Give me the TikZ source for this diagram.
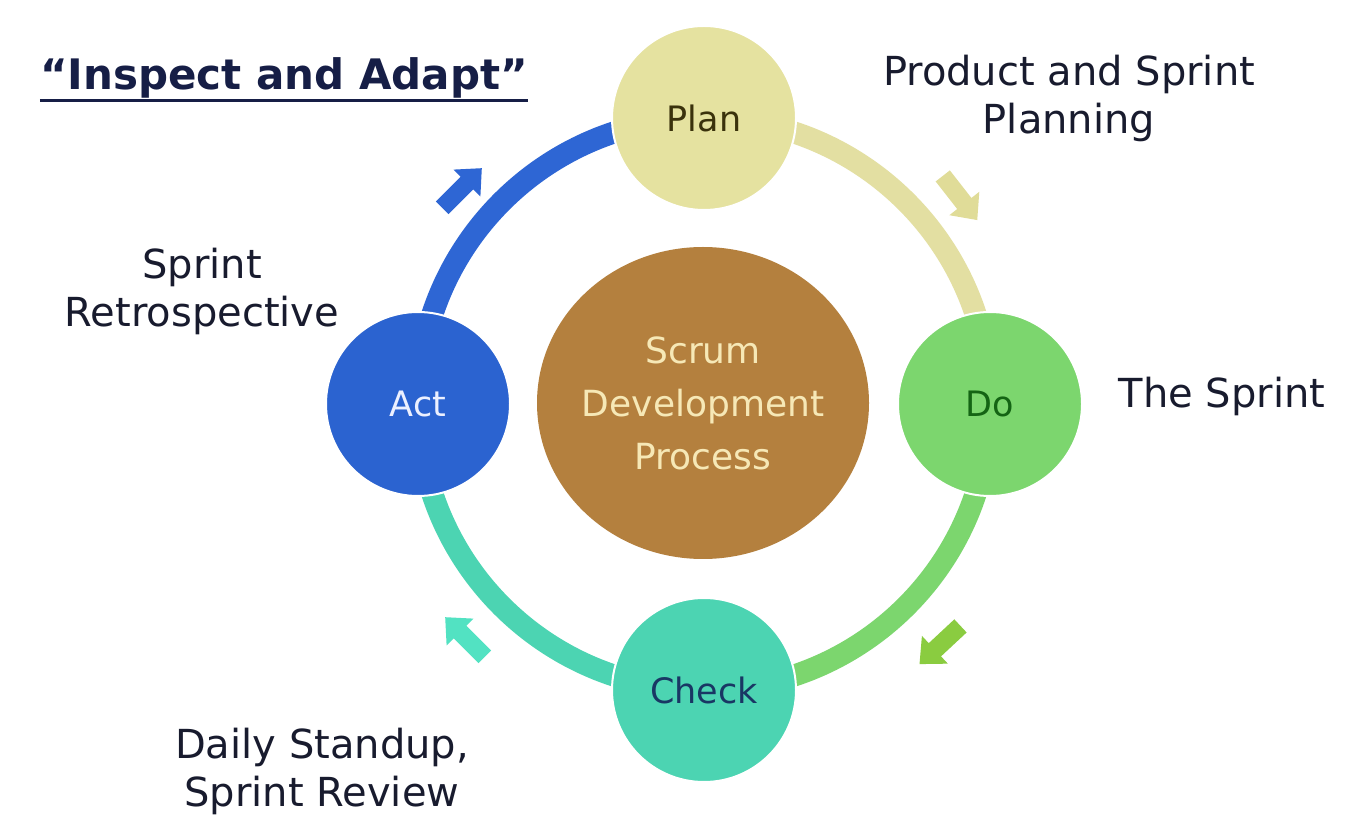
\documentclass[tikz,border=0pt]{standalone}
\usepackage{fontspec}
\setmainfont{DejaVu Sans}
\usetikzlibrary{shapes.geometric,backgrounds}
\definecolor{planC}{RGB}{229,226,160}
\definecolor{planArc}{RGB}{227,223,162}
\definecolor{planArrow}{RGB}{224,220,152}
\definecolor{planText}{RGB}{58,50,12}
\definecolor{doC}{RGB}{124,214,110}
\definecolor{doArrow}{RGB}{138,204,64}
\definecolor{doText}{RGB}{20,100,20}
\definecolor{checkC}{RGB}{76,212,178}
\definecolor{checkArrow}{RGB}{82,226,194}
\definecolor{checkText}{RGB}{25,55,100}
\definecolor{actC}{RGB}{43,99,208}
\definecolor{actArc}{RGB}{46,102,212}
\definecolor{actText}{RGB}{236,240,255}
\definecolor{coreC}{RGB}{180,128,62}
\definecolor{coreText}{RGB}{246,232,182}
\definecolor{labelC}{RGB}{24,27,46}
\definecolor{titleC}{RGB}{22,30,70}
\tikzset{
  phase/.style={circle, minimum size=184pt, inner sep=0pt, draw=white, line width=2pt,
                font=\fontsize{35}{40}\selectfont},
  ringline/.style={line width=22pt},
  outlabel/.style={align=center, inner sep=0pt, text=labelC,
                font=\fontsize{40}{48}\selectfont},
  blockarrow/.pic={\fill (-28,-9) -- (7,-9) -- (7,-19) -- (28,0) -- (7,19) -- (7,9) -- (-28,9) -- cycle;}
}
\begin{document}
\begin{tikzpicture}[x=1pt,y=1pt]
\useasboundingbox (0,0) rectangle (1365,833);

% phases
\coordinate (ring) at (704,429);
\node[phase, fill=planC, text=planText] (plan) at (704,715) {Plan};
\node[phase, fill=doC, text=doText] (do) at (990,429) {Do};
\node[phase, fill=checkC, text=checkText] (check) at (704,143) {Check};
\node[phase, fill=actC, text=actText] (act) at (418,429) {Act};

% ring arcs behind the circles
\begin{scope}[on background layer]
\fill[white] (0,0) rectangle (1365,833);
\draw[ringline, actArc] (act.center) arc[start angle=180, end angle=90, radius=286];
\draw[ringline, planArc] (plan.center) arc[start angle=90, end angle=0, radius=286];
\draw[ringline, doC] (do.center) arc[start angle=0, end angle=-90, radius=286];
\draw[ringline, checkC] (check.center) arc[start angle=-90, end angle=-180, radius=286];
\end{scope}

% core
\node[ellipse, fill=coreC, minimum width=332pt, minimum height=312pt, inner xsep=-20pt, inner ysep=-20pt,
      align=center, text=coreText, font=\fontsize{36}{53}\selectfont] (core) at (703,430)
      {Scrum\\Development\\Process};

% small direction arrows
\pic[color=actArc, rotate=45] at (462,645) {blockarrow};
\pic[color=planArrow, rotate=-52] at (960,635) {blockarrow};
\pic[color=doArrow, rotate=-137] at (940,188) {blockarrow};
\pic[color=checkArrow, rotate=135] at (465,196) {blockarrow};

% labels
\node[outlabel] (lplan) at (1069,735) {Product and Sprint\\Planning};
\node[outlabel, anchor=base] (ldo) at (1222,425) {The Sprint};
\node[outlabel] (lact) at (202,542) {Sprint\\Retrospective};
\node[outlabel] (lcheck) at (322,62) {Daily Standup,\\Sprint Review};

% title
\node[anchor=base, inner sep=0pt, text=titleC, font=\fontsize{42}{48}\bfseries] (title) at (284,743)
      {“Inspect and Adapt”};
\draw[titleC, line width=3pt] ([yshift=-11pt]title.base west) -- ([yshift=-11pt]title.base east);
\end{tikzpicture}
\end{document}
